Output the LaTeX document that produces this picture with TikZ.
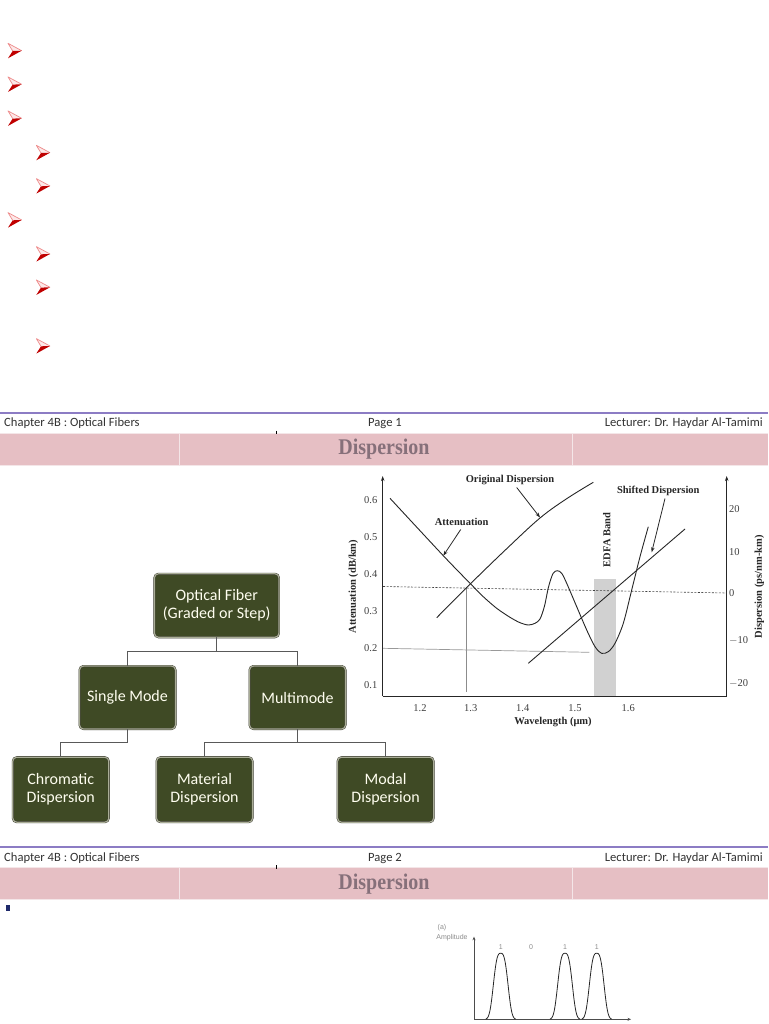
\documentclass[tikz,border=0pt]{standalone}
\usepackage{fontspec}
\setmainfont{Liberation Serif}
\newfontfamily\calibri{Carlito}
\newfontfamily\arialf{Liberation Sans}
\usetikzlibrary{arrows.meta}
\definecolor{boxfill}{HTML}{3F4A25}
\definecolor{boxring}{HTML}{A9AD96}
\definecolor{boxedge}{HTML}{35352B}
\definecolor{bandpink}{HTML}{E6BFC4}
\definecolor{bandline}{HTML}{F4E6E8}
\definecolor{headpurple}{HTML}{8C7CC4}
\definecolor{disptext}{HTML}{86707A}
\definecolor{bulletred}{HTML}{C00000}
\definecolor{bulletpink}{HTML}{EE8A8A}
\definecolor{bulletlight}{HTML}{FCE8E8}
\definecolor{navy}{HTML}{1F2A6B}
\newcommand\redarrowbullet[2]{%
  \fill[bulletlight] (#1-6.7,#2-7.4) -- (#1+7,#2) -- (#1-2,#2+0.3) -- cycle;
  \draw[bulletpink, line width=0.7pt, line join=round] (#1-2,#2+0.3) -- (#1-6.7,#2-7.4) -- (#1+7,#2);
  \fill[bulletred] (#1-2,#2+0.3) -- (#1+7,#2) -- (#1-6.7,#2+7.6) -- cycle;
}
\begin{document}
\begin{tikzpicture}[x=1pt,y=-1pt,
  box/.style={draw=boxedge, double=boxring, double distance=1.2pt, fill=boxfill,
    rounded corners=4pt, text=white!94!yellow, font=\calibri\fontsize{16}{18}\selectfont,
    align=center, inner sep=0pt},
  conn/.style={draw=black!65, line width=1pt},
  hdr/.style={font=\calibri\fontsize{12.6}{14}\selectfont, text=black!80, inner sep=0pt},
  plotline/.style={draw=black!85, line width=0.9pt},
  lbl/.style={font=\fontsize{10.5}{12}\selectfont\bfseries, text=black!85, inner sep=0pt},
  tick/.style={font=\fontsize{10.5}{12}\selectfont, text=black!75, inner sep=0pt},
  ptr/.style={draw=black!85, line width=0.8pt, -{Stealth[length=5pt,width=3.5pt]}},
  small/.style={font=\arialf\fontsize{7}{8}\selectfont, text=black!45, inner sep=0pt}
]
\useasboundingbox[fill=white] (0,0) rectangle (768,1024);

% ---------- top bullets ----------
\redarrowbullet{14.7}{50.7}
\redarrowbullet{14.7}{84.3}
\redarrowbullet{14.7}{118.3}
\redarrowbullet{43}{152.7}
\redarrowbullet{43}{186}
\redarrowbullet{14.7}{220}
\redarrowbullet{43}{254}
\redarrowbullet{43}{287.3}
\redarrowbullet{43}{346}

% ---------- headers ----------
\foreach \yy/\pg in {0/1, 434.5/2}{
  \begin{scope}[shift={(0,\yy)}]
    \draw[headpurple, line width=2pt] (0,412.5) -- (768,412.5);
    \node[hdr, anchor=west] (chap\pg) at (4,423.5) {Chapter 4B : Optical Fibers};
    \node[hdr] (page\pg) at (385,423.5) {Page \pg};
    \node[hdr, anchor=east] (lect\pg) at (763,423.5) {Lecturer: Dr. Haydar Al-Tamimi};
    \fill[bandpink] (0,433) rectangle (768,465);
    \draw[bandline, line width=0.8pt] (0,433) -- (768,433);
    \draw[bandline, line width=0.8pt] (0,465) -- (768,465);
    \draw[bandline, line width=0.8pt] (179,433) -- (179,465);
    \draw[bandline, line width=0.8pt] (572,433) -- (572,465);
    \draw[black, line width=0.8pt] (276,430.5) -- (276,434);
    \node[font=\fontsize{20}{22}\selectfont\bfseries, text=disptext, inner sep=0pt, yscale=1.12] (title\pg) at (384,449.5) {Dispersion};
  \end{scope}
}

% ---------- tree ----------
\node[box, minimum width=124.5pt, minimum height=63.5pt] (fiber) at (216.7,605.5) {Optical Fiber\\(Graded or Step)};
\node[box, minimum width=96pt, minimum height=63pt] (single) at (127.5,697.5) {Single Mode};
\node[box, minimum width=96pt, minimum height=63pt] (multi) at (297.5,697.5) {Multimode};
\node[box, minimum width=96pt, minimum height=65pt] (chrom) at (60.8,789.7) {Chromatic\\Dispersion};
\node[box, minimum width=96pt, minimum height=65pt] (mat) at (204.5,789.7) {Material\\Dispersion};
\node[box, minimum width=96pt, minimum height=65pt] (modal) at (385.6,789.7) {Modal\\Dispersion};
\coordinate (j1) at (216.7,651.7);
\coordinate (j2) at (127.5,742.7);
\coordinate (j3) at (297.5,742.7);
\draw[conn] (fiber.south) -- (j1) -| (single.north);
\draw[conn] (j1) -| (multi.north);
\draw[conn] (single.south) -- (j2) -| (chrom.north);
\draw[conn] (multi.south) -- (j3) -| (mat.north);
\draw[conn] (j3) -| (modal.north);

% ---------- graph ----------
\fill[black!18] (594,579) rectangle (616,696);
\coordinate (o) at (382.7,696);
\coordinate (ltop) at (382.7,476);
\coordinate (rbot) at (726.7,696);
\coordinate (rtop) at (726.7,476);
\draw[black!85, line width=0.9pt, -{Stealth[length=5pt,width=3.5pt]}] (o) -- (ltop);
\draw[black!85, line width=0.9pt, -{Stealth[length=5pt,width=3.5pt]}] (rbot) -- (rtop);
\draw[black!85, line width=0.9pt] (o) -- (rbot);
% reference lines
\draw[black!75, line width=0.6pt, dash pattern=on 2pt off 1.5pt] (383,586.5) -- (726.7,593);
\draw[black!45, line width=0.6pt] (466.7,586.7) -- (466.7,691.7);
\draw[black!40, line width=0.7pt] (383,648.3) -- (589.3,652.3);
% attenuation
\draw[plotline] plot[smooth, tension=0.5] coordinates {
 (390,498.3) (443.3,555.7) (471,584.3) (483.3,596.7) (496.7,608.3) (510,617.3) (520,622.7)
 (528.3,625) (535,623.3) (540,619) (544.5,606) (548.5,587) (553,573.5) (557.3,570.7)
 (561.7,573.3) (566.7,583.3) (576.7,606.7) (586.7,630) (595,646.7) (601.7,653.3)
 (608.3,651.7) (615,643.3) (623.3,623.3) (631.7,590) (640,556.7) (648.3,526.7)};
% original dispersion
\draw[plotline] plot[smooth, tension=0.6] coordinates {(436.7,617.7) (469.5,584.7) (506.7,548.7) (540,518) (567,498.5) (593.3,482.3)};
% shifted dispersion
\draw[plotline] (528.3,663.3) -- (685,529);
% labels
\node[lbl] (origlbl) at (510,480) {Original Dispersion};
\node[lbl] (attlbl) at (461.7,521.7) {Attenuation};
\node[lbl] (shiftlbl) at (658.3,491) {Shifted Dispersion};
\node[lbl, rotate=90] (edfa) at (606.7,540) {EDFA Band};
\coordinate (origtip) at (540,517.5);
\coordinate (atttip) at (443.3,555.7);
\coordinate (shifttip) at (651.7,552.3);
\draw[ptr] (516.7,487.5) -- (origtip);
\draw[ptr] (460.7,529.5) -- (atttip);
\draw[ptr] (665,498.5) -- (shifttip);
% ticks
\foreach \v/\yy in {0.6/500,0.5/537.5,0.4/574.5,0.3/611.5,0.2/648.5,0.1/685.5}{
  \node[tick] (lt\v) at (370.7,\yy) {\v};
}
\foreach \v/\yy/\n in {20/509/a,10/552.3/b,0/593.3/c,$-$10/640/d,$-$20/683.3/e}{
  \node[tick, anchor=west] (rt\n) at (729,\yy) {\v};
}
\foreach \v/\xx in {1.2/420,1.3/470.7,1.4/522.7,1.5/575,1.6/628.3}{
  \node[tick] (bt\v) at (\xx,707.7) {\v};
}
\node[lbl] (xlab) at (553,721.7) {Wavelength (μm)};
\node[lbl, rotate=90] (ylab) at (353.3,586.7) {Attenuation (dB/km)};
\node[lbl, rotate=90] (y2lab) at (759.3,586.7) {Dispersion (ps/nm-km)};

% ---------- page 2 ----------
\fill[navy] (6,905) rectangle (10,911);
\coordinate (po) at (474,1019.3);
\coordinate (py) at (474,936.7);
\coordinate (px) at (631,1019.3);
\draw[black!70, line width=0.6pt, -{Stealth[length=3.5pt,width=3pt]}] (po) -- (py);
\draw[black!70, line width=0.6pt, -{Stealth[length=3.5pt,width=3pt]}] (po) -- (px);
\foreach \c in {500.7,565,596.7}{
  \draw[black!85, line width=0.8pt] plot[domain=-15:15, samples=61, smooth] ({\c+\x},{1019.3-66*exp(-abs(\x/8.5)^3)});
}
\node[small] (alab) at (442,928) {(a)};
\node[small] (amp) at (452,938) {Amplitude};
\node[small] (b1) at (500.7,946.7) {1};
\node[small] (b2) at (531,946.7) {0};
\node[small] (b3) at (565,946.7) {1};
\node[small] (b4) at (596.7,946.7) {1};
\end{tikzpicture}
\end{document}
